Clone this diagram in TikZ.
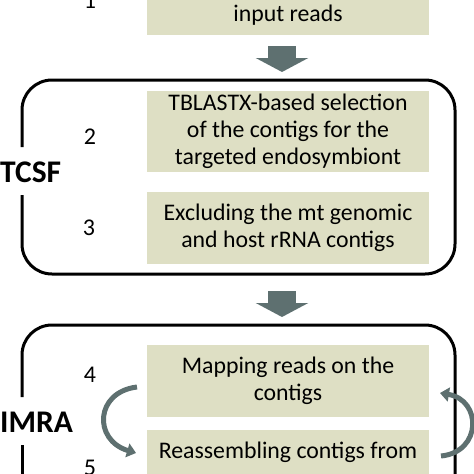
\documentclass[tikz,border=0pt]{standalone}
\usepackage{fontspec}
\setmainfont{Carlito}
\usetikzlibrary{arrows.meta}
\definecolor{boxfill}{RGB}{222,223,196}
\definecolor{arrowc}{RGB}{94,112,112}
\begin{document}
\begin{tikzpicture}[x=1pt,y=-1pt,
  stepbox/.style={fill=boxfill, minimum width=282pt, inner sep=0pt, align=center, font=\fontsize{23.8}{27}\selectfont},
  steptext/.style={align=center, inner sep=0pt, font=\fontsize{23.8}{27}\selectfont},
  num/.style={font=\fontsize{24}{27}\selectfont, inner sep=0pt},
  group/.style={font=\fontsize{31.5}{34}\selectfont\bfseries, inner sep=0pt, anchor=west},
  frame/.style={line width=3pt, rounded corners=30pt},
  blockarrow/.style={arrowc, line width=28pt, -{Triangle[width=52pt,length=14pt]}},
  looparrow/.style={arrowc, line width=5pt, -{Triangle[width=14pt,length=9pt]}}]
\useasboundingbox (0,0) rectangle (474,474);
\clip (0,0) rectangle (474,474);
% frames
\draw[frame] (22,147) -- (22,80) -- (455,80) -- (455,274) -- (22,274) -- (22,195);
\draw[frame] (22,397) -- (22,325) -- (455,325) -- (455,540);
\draw[line width=3pt] (22,445) -- (22,540);
% group labels
\node[group] (tcsf) at (0,172) {TCSF};
\node[group] (imra) at (0,422) {IMRA};
% boxes
\node[stepbox, minimum height=90pt, anchor=south] (b1) at (288,35) {};
\node[steptext] (t1) at (288,15) {input reads};
\node[stepbox, minimum height=81pt] (b2) at (288,131.5) {TBLASTX-based selection\\of the contigs for the\\targeted endosymbiont};
\node[stepbox, minimum height=72pt] (b3) at (288,228) {Excluding the mt genomic\\and host rRNA contigs};
\node[stepbox, minimum height=72pt] (b4) at (288,381) {Mapping reads on the\\contigs};
\node[stepbox, minimum height=90pt, anchor=north] (b5) at (288,430) {};
\node[steptext] (t5) at (288,452) {Reassembling contigs from};
% numbers
\node[num] (n1) at (90,1) {1};
\node[num] (n2) at (90,137) {2};
\node[num] (n3) at (89,228) {3};
\node[num] (n4) at (90,375) {4};
\node[num] (n5) at (90,468) {5};
% block arrows
\coordinate (a1s) at (282,46);
\coordinate (a1e) at (282,72);
\coordinate (a2s) at (282,291);
\coordinate (a2e) at (282,317);
\draw[blockarrow] (a1s) -- (a1e);
\draw[blockarrow] (a2s) -- (a2e);
% loop arrows
\coordinate (l1s) at (137,387);
\coordinate (l1e) at (136,453);
\draw[looparrow] (l1s) .. controls (95,392) and (93,440) .. (l1e);
\coordinate (r1s) at (441,456);
\coordinate (r1e) at (440,393);
\draw[looparrow] (r1s) .. controls (482,452) and (482,400) .. (r1e);
\end{tikzpicture}
\end{document}
